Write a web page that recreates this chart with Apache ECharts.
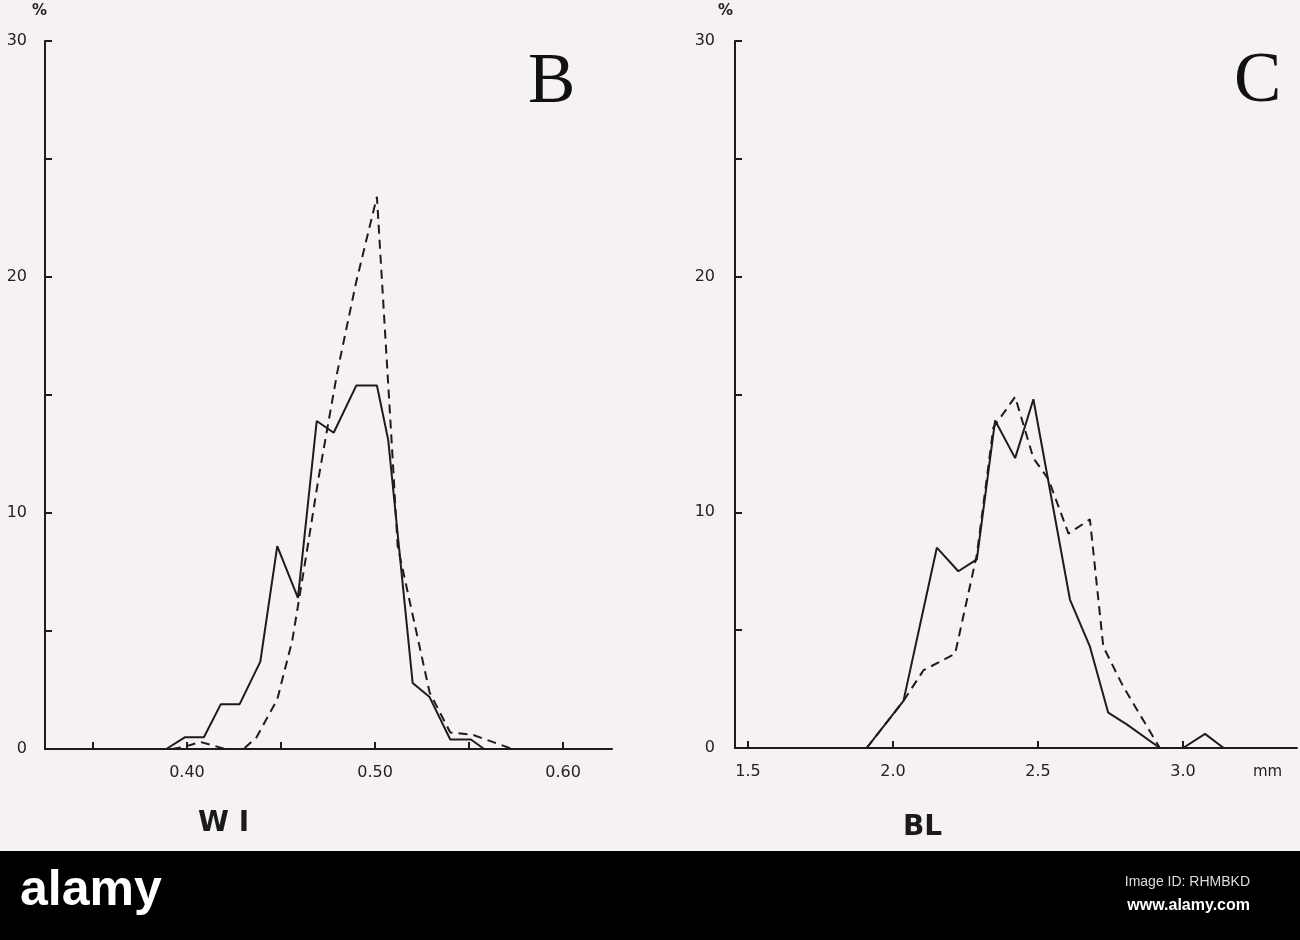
<!DOCTYPE html>
<html lang="en">
<head>
    <meta charset="UTF-8">
    <title>WI / BL</title>
    <script src="https://cdn.jsdelivr.net/npm/echarts@6/dist/echarts.min.js"></script>
    <style>
        html, body { margin: 0; padding: 0; background: #f6f2f1; }
        #main { width: 1300px; height: 940px; }
    </style>
</head>
<body>
<div id="main"></div>
<script>
    // panel B : WI
    var wiSolid = [[0.389, 0], [0.399, 0.5], [0.409, 0.5], [0.418, 1.9], [0.428, 1.9], [0.439, 3.7],
        [0.448, 8.6], [0.459, 6.4], [0.469, 13.9], [0.478, 13.4], [0.490, 15.4], [0.501, 15.4],
        [0.507, 13.1], [0.520, 2.8], [0.529, 2.2], [0.540, 0.4], [0.551, 0.4], [0.558, 0]];
    var wiDashed = [[0.392, 0], [0.399, 0.1], [0.407, 0.3], [0.416, 0.1], [0.420, 0], [0.430, 0],
        [0.437, 0.5], [0.448, 2.1], [0.456, 4.6], [0.463, 8.0], [0.470, 11.5], [0.480, 16.0],
        [0.490, 19.8], [0.501, 23.4], [0.509, 12.8], [0.512, 8.6], [0.529, 2.4], [0.540, 0.7],
        [0.552, 0.6], [0.573, 0]];
    var wiTicks = [0.35, 0.40, 0.45, 0.50, 0.55, 0.60];
    var wiLabels = [0.40, 0.50, 0.60];

    // panel C : BL
    var blSolid = [[1.909, 0], [2.036, 2.0], [2.151, 8.5], [2.225, 7.5], [2.289, 8.0], [2.352, 13.9],
        [2.421, 12.3], [2.484, 14.8], [2.610, 6.3], [2.679, 4.3], [2.742, 1.5], [2.806, 1.0],
        [2.920, 0], [3.000, 0], [3.076, 0.6], [3.140, 0]];
    var blDashed = [[1.909, 0], [2.036, 2.0], [2.105, 3.3], [2.214, 4.0], [2.289, 8.2], [2.346, 13.6],
        [2.421, 14.9], [2.484, 12.3], [2.536, 11.4], [2.605, 9.1], [2.679, 9.7], [2.725, 4.3],
        [2.794, 2.6], [2.920, 0], [2.980, 0]];
    var blTicks = [1.5, 2.0, 2.5, 3.0];
    var blLabels = [1.5, 2.0, 2.5, 3.0];

    var yLabels = [0, 10, 20, 30];

    var ink = '#1c1c1c';
    var font = 'DejaVu Sans';

    function xAxisOf(idx, min, max, ticks, labels, digits) {
        return {
            type: 'value', gridIndex: idx, min: min, max: max,
            splitLine: {show: false},
            axisLine: {lineStyle: {color: ink, width: 2}},
            axisTick: {inside: true, length: 7, customValues: ticks, lineStyle: {color: ink, width: 2}},
            axisLabel: {customValues: labels, color: '#222', fontFamily: font, fontSize: 16, margin: 16,
                formatter: function (v) { return v.toFixed(digits); }}
        };
    }
    function yAxisOf(idx, margin) {
        return {
            type: 'value', gridIndex: idx, min: 0, max: 30, interval: 5,
            splitLine: {show: false},
            axisLine: {show: true, lineStyle: {color: ink, width: 2}},
            axisTick: {inside: true, length: 7, lineStyle: {color: ink, width: 2}},
            axisLabel: {customValues: yLabels, color: '#222', fontFamily: font, fontSize: 16, margin: margin}
        };
    }
    function lineOf(idx, data, dashed) {
        return {
            type: 'line', xAxisIndex: idx, yAxisIndex: idx, data: data,
            showSymbol: false, silent: true,
            lineStyle: {color: ink, width: 2, type: dashed ? [9, 6] : 'solid'}
        };
    }

    var myChart = echarts.init(document.getElementById('main'));
    var option = {
        backgroundColor: '#f6f2f1',
        animation: false,
        grid: [
            {left: 45, top: 41, width: 567, bottom: 191},
            {left: 735, top: 41, width: 562, bottom: 192}
        ],
        xAxis: [
            xAxisOf(0, 0.3245, 0.626, wiTicks, wiLabels, 2),
            xAxisOf(1, 1.455, 3.393, blTicks, blLabels, 1)
        ],
        yAxis: [yAxisOf(0, 18), yAxisOf(1, 20)],
        series: [
            lineOf(0, wiSolid, false),
            lineOf(0, wiDashed, true),
            lineOf(1, blSolid, false),
            lineOf(1, blDashed, true)
        ],
        graphic: [
            {type: 'text', left: 32, top: 4, style: {text: '%', font: 'bold 15px DejaVu Sans', fill: '#222'}},
            {type: 'text', left: 718, top: 4, style: {text: '%', font: 'bold 15px DejaVu Sans', fill: '#222'}},
            {type: 'text', left: 528, top: 48, style: {text: 'B', font: '71px Liberation Serif', fill: '#111'}},
            {type: 'text', left: 1234, top: 47, style: {text: 'C', font: '71px Liberation Serif', fill: '#111'}},
            {type: 'text', left: 198, top: 810, style: {text: 'W I', font: 'bold 28px DejaVu Sans', fill: '#1a1a1a'}},
            {type: 'text', left: 903, top: 814, style: {text: 'BL', font: 'bold 28px DejaVu Sans', fill: '#1a1a1a'}},
            {type: 'text', left: 1253, top: 765, style: {text: 'mm', font: '15px DejaVu Sans', fill: '#222'}},
            {type: 'rect', left: 0, top: 851, shape: {width: 1300, height: 89}, style: {fill: '#000'}},
            {type: 'text', left: 20, top: 866, style: {text: 'alamy', font: 'bold 50px Liberation Sans Narrow, Liberation Sans', fill: '#fff'}},
            {type: 'text', right: 50, top: 875, style: {text: 'Image ID: RHMBKD', font: '14px Liberation Sans Narrow, Liberation Sans', fill: '#ddd'}},
            {type: 'text', right: 50, top: 898, style: {text: 'www.alamy.com', font: 'bold 16px Liberation Sans Narrow, Liberation Sans', fill: '#fff'}}
        ]
    };
    myChart.setOption(option);
</script>
</body>
</html>
